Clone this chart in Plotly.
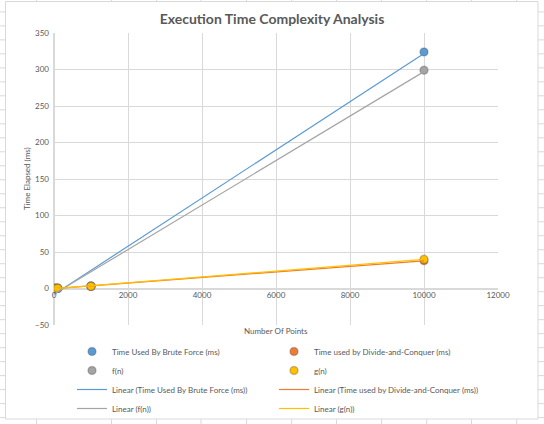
import plotly.graph_objects as go
import numpy as np

# Number of points tested
n_points = [10, 50, 100, 1000, 10000]

brute_ms = [0.01, 0.1, 0.3, 3.4, 324]
dac_ms = [0.02, 0.2, 0.4, 3.0, 38]
f_n = [0.0003, 0.0075, 0.03, 3.0, 299]
g_n = [0.01, 0.1, 0.2, 3.0, 40]

series_names = ['Time Used By Brute Force (ms)', 'Time used by Divide-and-Conquer (ms)', 'f(n)', 'g(n)']

x_ticks = [0, 2000, 4000, 6000, 8000, 10000, 12000]
y_ticks = [-50, 0, 50, 100, 150, 200, 250, 300, 350]

W, H = 544, 424
L, R, T, B = 54, 46, 33, 99
TXT = '#595959'
GRID = '#D9D9D9'
FONT = 'Lato'


def px_x(px):
    return (px - L) / (W - L - R)


def px_y(py):
    return (H - B - py) / (H - T - B)


def generate_plot():
    colors = ['#5B9BD5', '#ED7D31', '#A5A5A5', '#FFC000']
    data = [brute_ms, dac_ms, f_n, g_n]
    # brute force / f(n) go in the left legend column, the others in the right one
    legend_col = ['legend', 'legend2', 'legend', 'legend2']

    fig = go.Figure()

    # scatter series
    for name, vals, c, lg in zip(series_names, data, colors, legend_col):
        fig.add_trace(go.Scatter(
            x=n_points, y=vals, mode='markers', name=name, legend=lg,
            marker=dict(color=c, size=8, line=dict(color='rgba(60,60,60,0.28)', width=1.5)),
        ))

    # linear trendlines (least squares, like Excel), drawn over the data range
    for name, vals, c, lg in zip(series_names, data, colors, legend_col):
        slope, icpt = np.polyfit(n_points, vals, 1)
        xs = [min(n_points), max(n_points)]
        fig.add_trace(go.Scatter(
            x=xs, y=[slope * v + icpt for v in xs], mode='lines', legend=lg,
            name='Linear (' + name + ')', line=dict(color=c, width=1.2),
        ))

    # spreadsheet cells around the chart + chart border
    shapes = [dict(type='rect', xref='paper', yref='paper',
                   x0=px_x(5.5), x1=px_x(538), y0=px_y(419), y1=px_y(1.5),
                   line=dict(color=GRID, width=1), layer='below')]
    col_px = [36.5, 111.5, 156.6, 201, 246.5, 291.7, 336.5, 381.6, 426.7, 471.5, 516.7]
    for cx in col_px:
        shapes.append(dict(type='line', xref='paper', yref='paper', x0=px_x(cx), x1=px_x(cx),
                           y0=px_y(0), y1=px_y(1.5), line=dict(color=GRID, width=1)))
        shapes.append(dict(type='line', xref='paper', yref='paper', x0=px_x(cx), x1=px_x(cx),
                           y0=px_y(419), y1=px_y(424), line=dict(color=GRID, width=1)))
    for k in range(30):
        ry = 11.9 + 13.99 * k
        shapes.append(dict(type='line', xref='paper', yref='paper', x0=px_x(0), x1=px_x(5.5),
                           y0=px_y(ry), y1=px_y(ry), line=dict(color=GRID, width=1)))
        shapes.append(dict(type='line', xref='paper', yref='paper', x0=px_x(538), x1=px_x(544),
                           y0=px_y(ry), y1=px_y(ry), line=dict(color=GRID, width=1)))

    leg_common = dict(orientation='v', xref='container', yref='container', xanchor='left',
                      y=1 - 337 / H, yanchor='top', font=dict(size=8, color=TXT),
                      bgcolor='rgba(0,0,0,0)', tracegroupgap=0, traceorder='normal')

    fig.update_layout(
        width=W, height=H,
        margin=dict(l=L, r=R, t=T, b=B, autoexpand=False),
        paper_bgcolor='white', plot_bgcolor='white',
        font=dict(family=FONT, size=8, color=TXT),
        title=dict(text='<b>Execution Time Complexity Analysis</b>', x=0.5, xanchor='center',
                   y=1 - 19 / H, yanchor='middle', font=dict(size=14, color=TXT, family=FONT)),
        xaxis=dict(range=[0, 12000], tickvals=x_ticks, tickformat='d', showgrid=True,
                   gridcolor=GRID, gridwidth=1, zeroline=True, zerolinecolor=GRID,
                   showline=False, anchor='free', position=(0 - y_ticks[0]) / (y_ticks[-1] - y_ticks[0]),
                   ticks='', tickfont=dict(size=8, color=TXT)),
        yaxis=dict(range=[-50, 350], tickvals=y_ticks, showgrid=True, gridcolor=GRID, gridwidth=1,
                   zeroline=True, zerolinecolor=GRID, showline=False, ticks='',
                   ticklabelstandoff=4, tickfont=dict(size=8, color=TXT)),
        shapes=shapes,
        annotations=[
            dict(text='Number Of Points', xref='paper', yref='paper', x=px_x(276), y=px_y(331),
                 showarrow=False, xanchor='center', yanchor='middle', font=dict(size=8, color=TXT)),
            dict(text='Time Elapsed (ms)', xref='paper', yref='paper', x=px_x(27), y=px_y(179),
                 showarrow=False, textangle=-90, xanchor='center', yanchor='middle',
                 font=dict(size=8, color=TXT)),
        ],
        legend=dict(x=72 / W, **leg_common),
        legend2=dict(x=274 / W, **leg_common),
        showlegend=True,
    )
    return fig


if __name__ == '__main__':
    fig = generate_plot()
    # page body has a default 8px margin; drop it so the chart sits at the window corner
    fig.write_html('out.html', config={'displayModeBar': False},
                   post_script="document.body.style.margin='0';")
